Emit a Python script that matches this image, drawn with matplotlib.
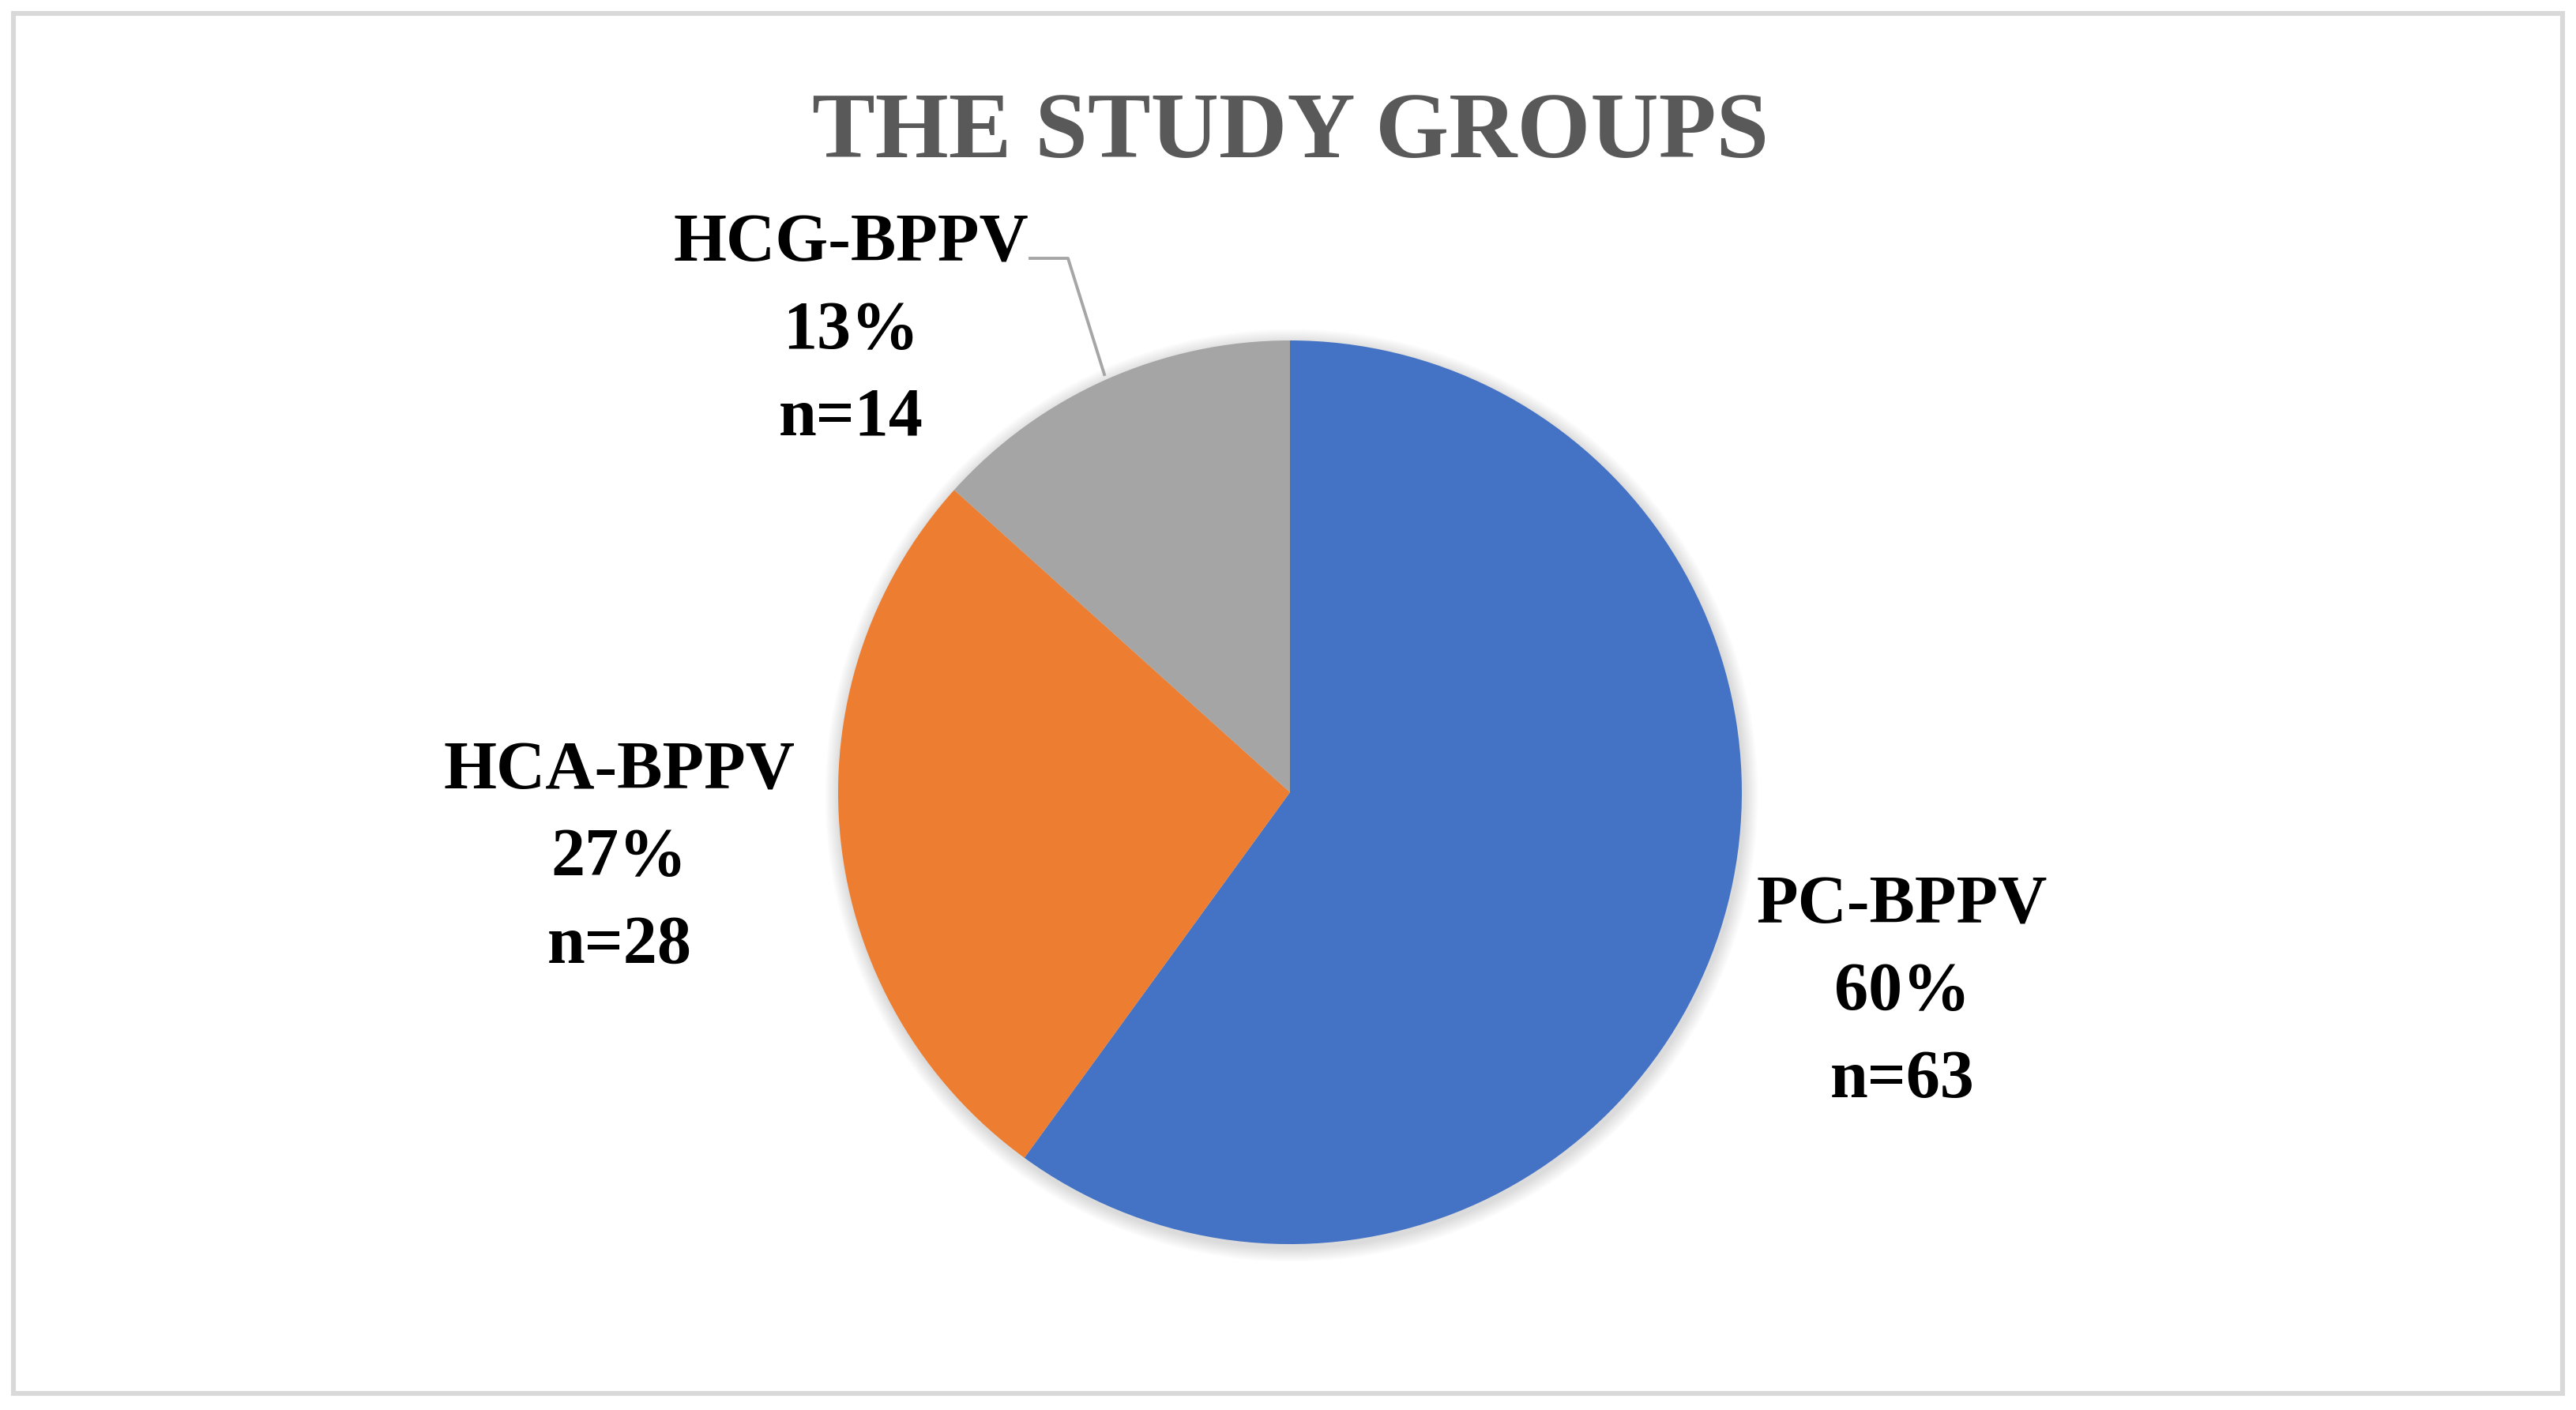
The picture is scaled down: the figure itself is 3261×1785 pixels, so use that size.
import numpy as np
import matplotlib.pyplot as plt
from matplotlib.patches import Rectangle, Circle

# data
groups = ['PC-BPPV', 'HCA-BPPV', 'HCG-BPPV']
counts = [63, 28, 14]
colors = ['#4472c4', '#ed7d31', '#a5a5a5']

W, H = 3261, 1785
fig = plt.figure(figsize=(W / 200, H / 200), dpi=200)
ax = fig.add_axes([0, 0, 1, 1])
ax.set_xlim(0, W)
ax.set_ylim(0, H)
ax.set_aspect('equal')
ax.axis('off')

fnt = 31
fam = 'Liberation Serif'

# outer frame
ax.add_patch(Rectangle((17, H - 1764), 3227, 1747, fill=False,
                       edgecolor='#d9d9d9', linewidth=2.2))

cx, cy, r = 1633, H - 1003, 572

# soft shadow around the pie
for k in range(12):
    ax.add_patch(Circle((cx + 2, cy - 4), r + 2 + k * 1.5, color='k',
                        alpha=0.012, linewidth=0, zorder=1))

total = sum(counts)
wedges, _ = ax.pie(counts, colors=colors, startangle=90, counterclock=False,
                   center=(cx, cy), radius=r, frame=True,
                   wedgeprops=dict(linewidth=0, zorder=2))
ax.set_xlim(0, W)
ax.set_ylim(0, H)
ax.axis('off')

label_pos = {'PC-BPPV': (2408, H - 1258),
             'HCA-BPPV': (784, H - 1088),
             'HCG-BPPV': (1077, H - 420)}
for g, n in zip(groups, counts):
    x, y = label_pos[g]
    pct = int(round(100 * n / total))
    ax.text(x, y, f'{g}\n{pct}%\nn={n}', ha='center', va='center',
            fontsize=fnt, fontweight='bold', family=fam,
            linespacing=1.52, color='black', zorder=5)

# leader line for the small slice
ax.plot([1304, 1352, 1398], [H - 327, H - 327, H - 474], color='#a6a6a6',
        linewidth=1.4, zorder=3)

ax.text(W / 2 + 3, H - 170, 'THE STUDY GROUPS', ha='center', va='center',
        fontsize=43, fontweight='bold', family=fam, color='#595959')

fig.savefig('out.png', dpi=200)
